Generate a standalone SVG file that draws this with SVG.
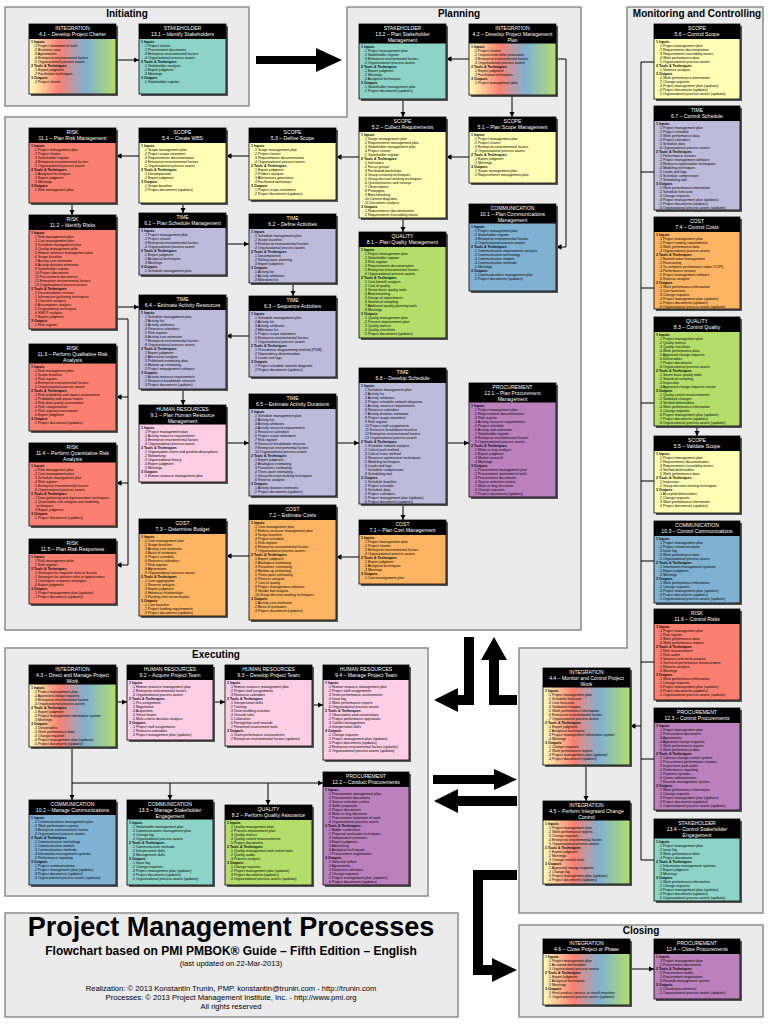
<svg xmlns="http://www.w3.org/2000/svg" width="768" height="1024" viewBox="0 0 768 1024">
<defs>
<linearGradient id="gi" x1="0" y1="0" x2="1" y2="0"><stop offset="0" stop-color="#ffffb3"/><stop offset="0.35" stop-color="#fb8072"/><stop offset="0.65" stop-color="#80b1d3"/><stop offset="1" stop-color="#b3de69"/></linearGradient>
<marker id="a" viewBox="0 0 10 10" refX="10" refY="5" markerWidth="5.5" markerHeight="5.5" markerUnits="userSpaceOnUse" orient="auto"><path d="M0,0L10,5L0,10z"/></marker>
<style>
.pn{fill:#ebebeb;stroke:#8c8c8c;stroke-width:1.5}
.pt{font:bold 10px "Liberation Sans",Arial,sans-serif;text-anchor:middle;fill:#000}
.s{fill:#555}
.bx{stroke:#000;stroke-width:.8}
.gi{fill:url(#gi)}.stk{fill:#8dd3c7}.scp{fill:#ffffb3}.tim{fill:#bebada}.cst{fill:#fdb462}.qua{fill:#b3de69}.hr{fill:#fccde5}.com{fill:#80b1d3}.rsk{fill:#fb8072}.prc{fill:#bc80bd}
.ht{font:5.1px "Liberation Sans",Arial,sans-serif;fill:#fff;text-anchor:middle}
.b{font:3.5px "Liberation Sans",Arial,sans-serif;fill:#000}
.h{font-weight:bold}
.c{fill:none;stroke:#000;stroke-width:1}
.ba{fill:#000}
.tt{font-family:"Liberation Sans",Arial,sans-serif;text-anchor:middle;fill:#000}
</style>
</defs>
<rect width="768" height="1024" fill="#fff"/>
<g id="panels">
<rect class="pn" x="5" y="7" width="244" height="99"/>
<path class="pn" d="M347,7H581V630H5V117H347Z"/>
<path class="pn" d="M627,7H763V913H519V648H627Z"/>
<rect class="pn" x="5" y="648" width="423" height="248"/>
<rect class="pn" x="5" y="913" width="453" height="104"/>
<rect class="pn" x="519" y="925" width="244" height="92"/>
<text class="pt" x="127" y="16.5">Initiating</text>
<text class="pt" x="459" y="16.5">Planning</text>
<text class="pt" x="697" y="16.5">Monitoring and Controlling</text>
<text class="pt" x="216" y="657.5">Executing</text>
<text class="pt" x="641" y="934">Closing</text>
</g>
<g id="big-arrows" class="ba">
<path d="M256,56H316V48L342,60L316,72V64H256Z"/>
<path d="M464,637H474V705H458V712L434,700L458,688V695H464Z"/>
<path d="M494,637L507,660H499V695H517V705H489V660H481Z"/>
<path d="M433,775H494V769L517,779.5L494,790V784H433Z"/>
<path d="M517,796V806H458V813L434,801L458,789V796Z"/>
<path d="M517,870V880H483V965H492V958L517,970L492,982V975H473V870Z"/>
</g>
<g id="connectors" class="c">
<path marker-end="url(#a)" d="M116,60H139"/>
<path marker-end="url(#a)" d="M469,59H446"/>
<path marker-end="url(#a)" d="M403,99V117"/>
<path marker-end="url(#a)" d="M512,95V117"/>
<path marker-end="url(#a)" d="M469,157H446"/>
<path marker-end="url(#a)" d="M359,157H336"/>
<path marker-end="url(#a)" d="M249,156H226"/>
<path marker-end="url(#a)" d="M139,156H116"/>
<path marker-end="url(#a)" d="M183,203V213"/>
<path marker-end="url(#a)" d="M72,203V215"/>
<path marker-end="url(#a)" d="M226,244H249"/>
<path marker-end="url(#a)" d="M293,283V296"/>
<path marker-end="url(#a)" d="M249,336H226"/>
<path marker-end="url(#a)" d="M183,389V405"/>
<path marker-end="url(#a)" d="M226,443H249"/>
<path marker-end="url(#a)" d="M336,443H359"/>
<path marker-end="url(#a)" d="M446,443H469"/>
<path marker-end="url(#a)" d="M403,504V520"/>
<path marker-end="url(#a)" d="M359,557H336"/>
<path marker-end="url(#a)" d="M249,556H226"/>
<path marker-end="url(#a)" d="M403,218V232"/>
<path marker-end="url(#a)" d="M556,59H566V247H556"/>
<path marker-end="url(#a)" d="M116,307H139"/>
<path marker-end="url(#a)" d="M116,319H128V565H116"/>
<path marker-end="url(#a)" d="M128,397H116"/>
<path marker-end="url(#a)" d="M128,483H116"/>
<path marker-end="url(#a)" d="M116,702H127"/>
<path marker-end="url(#a)" d="M213,702H225"/>
<path marker-end="url(#a)" d="M312,705H323"/>
<path marker-end="url(#a)" d="M72,747V783H323"/>
<path marker-end="url(#a)" d="M72,783V800"/>
<path marker-end="url(#a)" d="M170,783V800"/>
<path marker-end="url(#a)" d="M268,783V805"/>
<path d="M654,62H641V860H654M641,172H654M641,288H654M641,403H654M641,481H654M641,561H654M641,662H654M641,759H654"/>
<path marker-end="url(#a)" d="M641,726H630"/>
<path marker-end="url(#a)" d="M697,426V436"/>
<path marker-end="url(#a)" d="M586,765V801"/>
<path marker-end="url(#a)" d="M630,969H654"/>
</g>

<g id="p4-1" transform="translate(29,24)"><rect class="s" x="2" y="2" width="87" height="70"/><rect class="bx gi" width="87" height="70"/><rect width="87" height="15"/><text class="ht"><tspan x="43.5" y="6.2">INTEGRATION</tspan><tspan x="43.5" y="12">4.1 – Develop Project Charter</tspan></text><text class="b" y="15"><tspan class="h" x="2" dy="4">1 Inputs</tspan><tspan x="5" dy="4">.1 Project statement of work</tspan><tspan x="5" dy="4">.2 Business case</tspan><tspan x="5" dy="4">.3 Agreements</tspan><tspan x="5" dy="4">.4 Enterprise environmental factors</tspan><tspan x="5" dy="4">.5 Organizational process assets</tspan><tspan class="h" x="2" dy="4">2 Tools &amp; Techniques</tspan><tspan x="5" dy="4">.1 Expert judgment</tspan><tspan x="5" dy="4">.2 Facilitation techniques</tspan><tspan class="h" x="2" dy="4">3 Outputs</tspan><tspan x="5" dy="4">.1 Project charter</tspan></text></g>

<g id="p13-1" transform="translate(139,24)"><rect class="s" x="2" y="2" width="87" height="70"/><rect class="bx stk" width="87" height="70"/><rect width="87" height="15"/><text class="ht"><tspan x="43.5" y="6.2">STAKEHOLDER</tspan><tspan x="43.5" y="12">13.1 – Identify Stakeholders</tspan></text><text class="b" y="15"><tspan class="h" x="2" dy="4">1 Inputs</tspan><tspan x="5" dy="4">.1 Project charter</tspan><tspan x="5" dy="4">.2 Procurement documents</tspan><tspan x="5" dy="4">.3 Enterprise environmental factors</tspan><tspan x="5" dy="4">.4 Organizational process assets</tspan><tspan class="h" x="2" dy="4">2 Tools &amp; Techniques</tspan><tspan x="5" dy="4">.1 Stakeholder analysis</tspan><tspan x="5" dy="4">.2 Expert judgment</tspan><tspan x="5" dy="4">.3 Meetings</tspan><tspan class="h" x="2" dy="4">3 Outputs</tspan><tspan x="5" dy="4">.1 Stakeholder register</tspan></text></g>

<g id="p13-2" transform="translate(359,24)"><rect class="s" x="2" y="2" width="87" height="75"/><rect class="bx stk" width="87" height="75"/><rect width="87" height="19.5"/><text class="ht"><tspan x="43.5" y="6">STAKEHOLDER</tspan><tspan x="43.5" y="11.8">13.2 – Plan Stakeholder</tspan><tspan x="43.5" y="17.6">Management</tspan></text><text class="b" y="19.5"><tspan class="h" x="2" dy="4">1 Inputs</tspan><tspan x="5" dy="4">.1 Project management plan</tspan><tspan x="5" dy="4">.2 Stakeholder register</tspan><tspan x="5" dy="4">.3 Enterprise environmental factors</tspan><tspan x="5" dy="4">.4 Organizational process assets</tspan><tspan class="h" x="2" dy="4">2 Tools &amp; Techniques</tspan><tspan x="5" dy="4">.1 Expert judgment</tspan><tspan x="5" dy="4">.2 Meetings</tspan><tspan x="5" dy="4">.3 Analytical techniques</tspan><tspan class="h" x="2" dy="4">3 Outputs</tspan><tspan x="5" dy="4">.1 Stakeholder management plan</tspan><tspan x="5" dy="4">.2 Project documents (updates)</tspan></text></g>

<g id="p4-2" transform="translate(469,24)"><rect class="s" x="2" y="2" width="87" height="71"/><rect class="bx gi" width="87" height="71"/><rect width="87" height="19.5"/><text class="ht"><tspan x="43.5" y="6">INTEGRATION</tspan><tspan x="43.5" y="11.8">4.2 – Develop Project Management</tspan><tspan x="43.5" y="17.6">Plan</tspan></text><text class="b" y="19.5"><tspan class="h" x="2" dy="4">1 Inputs</tspan><tspan x="5" dy="4">.1 Project charter</tspan><tspan x="5" dy="4">.2 Outputs from other processes</tspan><tspan x="5" dy="4">.3 Enterprise environmental factors</tspan><tspan x="5" dy="4">.4 Organizational process assets</tspan><tspan class="h" x="2" dy="4">2 Tools &amp; Techniques</tspan><tspan x="5" dy="4">.1 Expert judgment</tspan><tspan x="5" dy="4">.2 Facilitation techniques</tspan><tspan class="h" x="2" dy="4">3 Outputs</tspan><tspan x="5" dy="4">.1 Project management plan</tspan></text></g>

<g id="p5-1" transform="translate(469,117)"><rect class="s" x="2" y="2" width="87" height="66"/><rect class="bx scp" width="87" height="66"/><rect width="87" height="15"/><text class="ht"><tspan x="43.5" y="6.2">SCOPE</tspan><tspan x="43.5" y="12">5.1 – Plan Scope Management</tspan></text><text class="b" y="15"><tspan class="h" x="2" dy="4">1 Inputs</tspan><tspan x="5" dy="4">.1 Project management plan</tspan><tspan x="5" dy="4">.2 Project charter</tspan><tspan x="5" dy="4">.3 Enterprise environmental factors</tspan><tspan x="5" dy="4">.4 Organizational process assets</tspan><tspan class="h" x="2" dy="4">2 Tools &amp; Techniques</tspan><tspan x="5" dy="4">.1 Expert judgment</tspan><tspan x="5" dy="4">.2 Meetings</tspan><tspan class="h" x="2" dy="4">3 Outputs</tspan><tspan x="5" dy="4">.1 Scope management plan</tspan><tspan x="5" dy="4">.2 Requirements management plan</tspan></text></g>

<g id="p5-2" transform="translate(359,117)"><rect class="s" x="2" y="2" width="87" height="101"/><rect class="bx scp" width="87" height="101"/><rect width="87" height="15"/><text class="ht"><tspan x="43.5" y="6.2">SCOPE</tspan><tspan x="43.5" y="12">5.2 – Collect Requirements</tspan></text><text class="b" y="15"><tspan class="h" x="2" dy="4">1 Inputs</tspan><tspan x="5" dy="4">.1 Scope management plan</tspan><tspan x="5" dy="4">.2 Requirements management plan</tspan><tspan x="5" dy="4">.3 Stakeholder management plan</tspan><tspan x="5" dy="4">.4 Project charter</tspan><tspan x="5" dy="4">.5 Stakeholder register</tspan><tspan class="h" x="2" dy="4">2 Tools &amp; Techniques</tspan><tspan x="5" dy="4">.1 Interviews</tspan><tspan x="5" dy="4">.2 Focus groups</tspan><tspan x="5" dy="4">.3 Facilitated workshops</tspan><tspan x="5" dy="4">.4 Group creativity techniques</tspan><tspan x="5" dy="4">.5 Group decision-making techniques</tspan><tspan x="5" dy="4">.6 Questionnaires and surveys</tspan><tspan x="5" dy="4">.7 Observations</tspan><tspan x="5" dy="4">.8 Prototypes</tspan><tspan x="5" dy="4">.9 Benchmarking</tspan><tspan x="5" dy="4">.10 Context diagrams</tspan><tspan x="5" dy="4">.11 Document analysis</tspan><tspan class="h" x="2" dy="4">3 Outputs</tspan><tspan x="5" dy="4">.1 Requirements documentation</tspan><tspan x="5" dy="4">.2 Requirements traceability matrix</tspan></text></g>

<g id="p5-3" transform="translate(249,128)"><rect class="s" x="2" y="2" width="87" height="72"/><rect class="bx scp" width="87" height="72"/><rect width="87" height="15"/><text class="ht"><tspan x="43.5" y="6.2">SCOPE</tspan><tspan x="43.5" y="12">5.3 – Define Scope</tspan></text><text class="b" y="15"><tspan class="h" x="2" dy="4">1 Inputs</tspan><tspan x="5" dy="4">.1 Scope management plan</tspan><tspan x="5" dy="4">.2 Project charter</tspan><tspan x="5" dy="4">.3 Requirements documentation</tspan><tspan x="5" dy="4">.4 Organizational process assets</tspan><tspan class="h" x="2" dy="4">2 Tools &amp; Techniques</tspan><tspan x="5" dy="4">.1 Expert judgment</tspan><tspan x="5" dy="4">.2 Product analysis</tspan><tspan x="5" dy="4">.3 Alternatives generation</tspan><tspan x="5" dy="4">.4 Facilitated workshops</tspan><tspan class="h" x="2" dy="4">3 Outputs</tspan><tspan x="5" dy="4">.1 Project scope statement</tspan><tspan x="5" dy="4">.2 Project documents (updates)</tspan></text></g>

<g id="p5-4" transform="translate(139,128)"><rect class="s" x="2" y="2" width="87" height="75"/><rect class="bx scp" width="87" height="75"/><rect width="87" height="15"/><text class="ht"><tspan x="43.5" y="6.2">SCOPE</tspan><tspan x="43.5" y="12">5.4 – Create WBS</tspan></text><text class="b" y="15"><tspan class="h" x="2" dy="4">1 Inputs</tspan><tspan x="5" dy="4">.1 Scope management plan</tspan><tspan x="5" dy="4">.2 Project scope statement</tspan><tspan x="5" dy="4">.3 Requirements documentation</tspan><tspan x="5" dy="4">.4 Enterprise environmental factors</tspan><tspan x="5" dy="4">.5 Organizational process assets</tspan><tspan class="h" x="2" dy="4">2 Tools &amp; Techniques</tspan><tspan x="5" dy="4">.1 Decomposition</tspan><tspan x="5" dy="4">.2 Expert judgment</tspan><tspan class="h" x="2" dy="4">3 Outputs</tspan><tspan x="5" dy="4">.1 Scope baseline</tspan><tspan x="5" dy="4">.2 Project documents (updates)</tspan></text></g>

<g id="p11-1" transform="translate(29,128)"><rect class="s" x="2" y="2" width="87" height="75"/><rect class="bx rsk" width="87" height="75"/><rect width="87" height="15"/><text class="ht"><tspan x="43.5" y="6.2">RISK</tspan><tspan x="43.5" y="12">11.1 – Plan Risk Management</tspan></text><text class="b" y="15"><tspan class="h" x="2" dy="4">1 Inputs</tspan><tspan x="5" dy="4">.1 Project management plan</tspan><tspan x="5" dy="4">.2 Project charter</tspan><tspan x="5" dy="4">.3 Stakeholder register</tspan><tspan x="5" dy="4">.4 Enterprise environmental factors</tspan><tspan x="5" dy="4">.5 Organizational process assets</tspan><tspan class="h" x="2" dy="4">2 Tools &amp; Techniques</tspan><tspan x="5" dy="4">.1 Analytical techniques</tspan><tspan x="5" dy="4">.2 Expert judgment</tspan><tspan x="5" dy="4">.3 Meetings</tspan><tspan class="h" x="2" dy="4">3 Outputs</tspan><tspan x="5" dy="4">.1 Risk management plan</tspan></text></g>

<g id="p11-2" transform="translate(29,215)"><rect class="s" x="2" y="2" width="87" height="114"/><rect class="bx rsk" width="87" height="114"/><rect width="87" height="15"/><text class="ht"><tspan x="43.5" y="6.2">RISK</tspan><tspan x="43.5" y="12">11.2 – Identify Risks</tspan></text><text class="b" y="15"><tspan class="h" x="2" dy="4">1 Inputs</tspan><tspan x="5" dy="4">.1 Risk management plan</tspan><tspan x="5" dy="4">.2 Cost management plan</tspan><tspan x="5" dy="4">.3 Schedule management plan</tspan><tspan x="5" dy="4">.4 Quality management plan</tspan><tspan x="5" dy="4">.5 Human resource management plan</tspan><tspan x="5" dy="4">.6 Scope baseline</tspan><tspan x="5" dy="4">.7 Activity cost estimates</tspan><tspan x="5" dy="4">.8 Activity duration estimates</tspan><tspan x="5" dy="4">.9 Stakeholder register</tspan><tspan x="5" dy="4">.10 Project documents</tspan><tspan x="5" dy="4">.11 Procurement documents</tspan><tspan x="5" dy="4">.12 Enterprise environmental factors</tspan><tspan x="5" dy="4">.13 Organizational process assets</tspan><tspan class="h" x="2" dy="4">2 Tools &amp; Techniques</tspan><tspan x="5" dy="4">.1 Documentation reviews</tspan><tspan x="5" dy="4">.2 Information gathering techniques</tspan><tspan x="5" dy="4">.3 Checklist analysis</tspan><tspan x="5" dy="4">.4 Assumptions analysis</tspan><tspan x="5" dy="4">.5 Diagramming techniques</tspan><tspan x="5" dy="4">.6 SWOT analysis</tspan><tspan x="5" dy="4">.7 Expert judgment</tspan><tspan class="h" x="2" dy="4">3 Outputs</tspan><tspan x="5" dy="4">.1 Risk register</tspan></text></g>

<g id="p11-3" transform="translate(29,344)"><rect class="s" x="2" y="2" width="87" height="87"/><rect class="bx rsk" width="87" height="87"/><rect width="87" height="19.5"/><text class="ht"><tspan x="43.5" y="6">RISK</tspan><tspan x="43.5" y="11.8">11.3 – Perform Qualitative Risk</tspan><tspan x="43.5" y="17.6">Analysis</tspan></text><text class="b" y="19.5"><tspan class="h" x="2" dy="4">1 Inputs</tspan><tspan x="5" dy="4">.1 Risk management plan</tspan><tspan x="5" dy="4">.2 Scope baseline</tspan><tspan x="5" dy="4">.3 Risk register</tspan><tspan x="5" dy="4">.4 Enterprise environmental factors</tspan><tspan x="5" dy="4">.5 Organizational process assets</tspan><tspan class="h" x="2" dy="4">2 Tools &amp; Techniques</tspan><tspan x="5" dy="4">.1 Risk probability and impact assessment</tspan><tspan x="5" dy="4">.2 Probability and impact matrix</tspan><tspan x="5" dy="4">.3 Risk data quality assessment</tspan><tspan x="5" dy="4">.4 Risk categorization</tspan><tspan x="5" dy="4">.5 Risk urgency assessment</tspan><tspan x="5" dy="4">.6 Expert judgment</tspan><tspan class="h" x="2" dy="4">3 Outputs</tspan><tspan x="5" dy="4">.1 Project documents (updates)</tspan></text></g>

<g id="p11-4" transform="translate(29,443)"><rect class="s" x="2" y="2" width="87" height="83"/><rect class="bx rsk" width="87" height="83"/><rect width="87" height="19.5"/><text class="ht"><tspan x="43.5" y="6">RISK</tspan><tspan x="43.5" y="11.8">11.4 – Perform Quantitative Risk</tspan><tspan x="43.5" y="17.6">Analysis</tspan></text><text class="b" y="19.5"><tspan class="h" x="2" dy="4">1 Inputs</tspan><tspan x="5" dy="4">.1 Risk management plan</tspan><tspan x="5" dy="4">.2 Cost management plan</tspan><tspan x="5" dy="4">.3 Schedule management plan</tspan><tspan x="5" dy="4">.4 Risk register</tspan><tspan x="5" dy="4">.5 Enterprise environmental factors</tspan><tspan x="5" dy="4">.6 Organizational process assets</tspan><tspan class="h" x="2" dy="4">2 Tools &amp; Techniques</tspan><tspan x="5" dy="4">.1 Data gathering and representation techniques</tspan><tspan x="5" dy="4">.2 Quantitative risk analysis and modeling</tspan><tspan x="7" dy="4">techniques</tspan><tspan x="5" dy="4">.3 Expert judgment</tspan><tspan class="h" x="2" dy="4">3 Outputs</tspan><tspan x="5" dy="4">.1 Project documents (updates)</tspan></text></g>

<g id="p11-5" transform="translate(29,539)"><rect class="s" x="2" y="2" width="87" height="65"/><rect class="bx rsk" width="87" height="65"/><rect width="87" height="15"/><text class="ht"><tspan x="43.5" y="6.2">RISK</tspan><tspan x="43.5" y="12">11.5 – Plan Risk Responses</tspan></text><text class="b" y="15"><tspan class="h" x="2" dy="4">1 Inputs</tspan><tspan x="5" dy="4">.1 Risk management plan</tspan><tspan x="5" dy="4">.2 Risk register</tspan><tspan class="h" x="2" dy="4">2 Tools &amp; Techniques</tspan><tspan x="5" dy="4">.1 Strategies for negative risks or threats</tspan><tspan x="5" dy="4">.2 Strategies for positive risks or opportunities</tspan><tspan x="5" dy="4">.3 Contingent response strategies</tspan><tspan x="5" dy="4">.4 Expert judgment</tspan><tspan class="h" x="2" dy="4">3 Outputs</tspan><tspan x="5" dy="4">.1 Project management plan (updates)</tspan><tspan x="5" dy="4">.2 Project documents (updates)</tspan></text></g>

<g id="p6-1" transform="translate(139,213)"><rect class="s" x="2" y="2" width="87" height="62"/><rect class="bx tim" width="87" height="62"/><rect width="87" height="15"/><text class="ht"><tspan x="43.5" y="6.2">TIME</tspan><tspan x="43.5" y="12">6.1 – Plan Schedule Management</tspan></text><text class="b" y="15"><tspan class="h" x="2" dy="4">1 Inputs</tspan><tspan x="5" dy="4">.1 Project management plan</tspan><tspan x="5" dy="4">.2 Project charter</tspan><tspan x="5" dy="4">.3 Enterprise environmental factors</tspan><tspan x="5" dy="4">.4 Organizational process assets</tspan><tspan class="h" x="2" dy="4">2 Tools &amp; Techniques</tspan><tspan x="5" dy="4">.1 Expert judgment</tspan><tspan x="5" dy="4">.2 Analytical techniques</tspan><tspan x="5" dy="4">.3 Meetings</tspan><tspan class="h" x="2" dy="4">3 Outputs</tspan><tspan x="5" dy="4">.1 Schedule management plan</tspan></text></g>

<g id="p6-2" transform="translate(249,214)"><rect class="s" x="2" y="2" width="87" height="69"/><rect class="bx tim" width="87" height="69"/><rect width="87" height="15"/><text class="ht"><tspan x="43.5" y="6.2">TIME</tspan><tspan x="43.5" y="12">6.2 – Define Activities</tspan></text><text class="b" y="15"><tspan class="h" x="2" dy="4">1 Inputs</tspan><tspan x="5" dy="4">.1 Schedule management plan</tspan><tspan x="5" dy="4">.2 Scope baseline</tspan><tspan x="5" dy="4">.3 Enterprise environmental factors</tspan><tspan x="5" dy="4">.4 Organizational process assets</tspan><tspan class="h" x="2" dy="4">2 Tools &amp; Techniques</tspan><tspan x="5" dy="4">.1 Decomposition</tspan><tspan x="5" dy="4">.2 Rolling wave planning</tspan><tspan x="5" dy="4">.3 Expert judgment</tspan><tspan class="h" x="2" dy="4">3 Outputs</tspan><tspan x="5" dy="4">.1 Activity list</tspan><tspan x="5" dy="4">.2 Activity attributes</tspan><tspan x="5" dy="4">.3 Milestone list</tspan></text></g>

<g id="p6-3" transform="translate(249,296)"><rect class="s" x="2" y="2" width="87" height="81"/><rect class="bx tim" width="87" height="81"/><rect width="87" height="15"/><text class="ht"><tspan x="43.5" y="6.2">TIME</tspan><tspan x="43.5" y="12">6.3 – Sequence Activities</tspan></text><text class="b" y="15"><tspan class="h" x="2" dy="4">1 Inputs</tspan><tspan x="5" dy="4">.1 Schedule management plan</tspan><tspan x="5" dy="4">.2 Activity list</tspan><tspan x="5" dy="4">.3 Activity attributes</tspan><tspan x="5" dy="4">.4 Milestone list</tspan><tspan x="5" dy="4">.5 Project scope statement</tspan><tspan x="5" dy="4">.6 Enterprise environmental factors</tspan><tspan x="5" dy="4">.7 Organizational process assets</tspan><tspan class="h" x="2" dy="4">2 Tools &amp; Techniques</tspan><tspan x="5" dy="4">.1 Precedence diagramming method (PDM)</tspan><tspan x="5" dy="4">.2 Dependency determination</tspan><tspan x="5" dy="4">.3 Leads and lags</tspan><tspan class="h" x="2" dy="4">3 Outputs</tspan><tspan x="5" dy="4">.1 Project schedule network diagrams</tspan><tspan x="5" dy="4">.2 Project documents (updates)</tspan></text></g>

<g id="p6-4" transform="translate(139,295)"><rect class="s" x="2" y="2" width="87" height="94"/><rect class="bx tim" width="87" height="94"/><rect width="87" height="15"/><text class="ht"><tspan x="43.5" y="6.2">TIME</tspan><tspan x="43.5" y="12">6.4 – Estimate Activity Resources</tspan></text><text class="b" y="15"><tspan class="h" x="2" dy="4">1 Inputs</tspan><tspan x="5" dy="4">.1 Schedule management plan</tspan><tspan x="5" dy="4">.2 Activity list</tspan><tspan x="5" dy="4">.3 Activity attributes</tspan><tspan x="5" dy="4">.4 Resource calendars</tspan><tspan x="5" dy="4">.5 Risk register</tspan><tspan x="5" dy="4">.6 Activity cost estimates</tspan><tspan x="5" dy="4">.7 Enterprise environmental factors</tspan><tspan x="5" dy="4">.8 Organizational process assets</tspan><tspan class="h" x="2" dy="4">2 Tools &amp; Techniques</tspan><tspan x="5" dy="4">.1 Expert judgment</tspan><tspan x="5" dy="4">.2 Alternative analysis</tspan><tspan x="5" dy="4">.3 Published estimating data</tspan><tspan x="5" dy="4">.4 Bottom-up estimating</tspan><tspan x="5" dy="4">.5 Project management software</tspan><tspan class="h" x="2" dy="4">3 Outputs</tspan><tspan x="5" dy="4">.1 Activity resource requirements</tspan><tspan x="5" dy="4">.2 Resource breakdown structure</tspan><tspan x="5" dy="4">.3 Project documents (updates)</tspan></text></g>

<g id="p9-1" transform="translate(139,405)"><rect class="s" x="2" y="2" width="87" height="77"/><rect class="bx hr" width="87" height="77"/><rect width="87" height="19.5"/><text class="ht"><tspan x="43.5" y="6">HUMAN RESOURCES</tspan><tspan x="43.5" y="11.8">9.1 – Plan Human Resource</tspan><tspan x="43.5" y="17.6">Management</tspan></text><text class="b" y="19.5"><tspan class="h" x="2" dy="4">1 Inputs</tspan><tspan x="5" dy="4">.1 Project management plan</tspan><tspan x="5" dy="4">.2 Activity resource requirements</tspan><tspan x="5" dy="4">.3 Enterprise environmental factors</tspan><tspan x="5" dy="4">.4 Organizational process assets</tspan><tspan class="h" x="2" dy="4">2 Tools &amp; Techniques</tspan><tspan x="5" dy="4">.1 Organization charts and position descriptions</tspan><tspan x="5" dy="4">.2 Networking</tspan><tspan x="5" dy="4">.3 Organizational theory</tspan><tspan x="5" dy="4">.4 Expert judgment</tspan><tspan x="5" dy="4">.5 Meetings</tspan><tspan class="h" x="2" dy="4">3 Outputs</tspan><tspan x="5" dy="4">.1 Human resource management plan</tspan></text></g>

<g id="p6-5" transform="translate(249,394)"><rect class="s" x="2" y="2" width="87" height="102"/><rect class="bx tim" width="87" height="102"/><rect width="87" height="15"/><text class="ht"><tspan x="43.5" y="6.2">TIME</tspan><tspan x="43.5" y="12">6.5 – Estimate Activity Durations</tspan></text><text class="b" y="15"><tspan class="h" x="2" dy="4">1 Inputs</tspan><tspan x="5" dy="4">.1 Schedule management plan</tspan><tspan x="5" dy="4">.2 Activity list</tspan><tspan x="5" dy="4">.3 Activity attributes</tspan><tspan x="5" dy="4">.4 Activity resource requirements</tspan><tspan x="5" dy="4">.5 Resource calendars</tspan><tspan x="5" dy="4">.6 Project scope statement</tspan><tspan x="5" dy="4">.7 Risk register</tspan><tspan x="5" dy="4">.8 Resource breakdown structure</tspan><tspan x="5" dy="4">.9 Enterprise environmental factors</tspan><tspan x="5" dy="4">.10 Organizational process assets</tspan><tspan class="h" x="2" dy="4">2 Tools &amp; Techniques</tspan><tspan x="5" dy="4">.1 Expert judgment</tspan><tspan x="5" dy="4">.2 Analogous estimating</tspan><tspan x="5" dy="4">.3 Parametric estimating</tspan><tspan x="5" dy="4">.4 Three-point estimating</tspan><tspan x="5" dy="4">.5 Group decision-making techniques</tspan><tspan x="5" dy="4">.6 Reserve analysis</tspan><tspan class="h" x="2" dy="4">3 Outputs</tspan><tspan x="5" dy="4">.1 Activity duration estimates</tspan><tspan x="5" dy="4">.2 Project documents (updates)</tspan></text></g>

<g id="p6-6" transform="translate(359,368)"><rect class="s" x="2" y="2" width="87" height="136"/><rect class="bx tim" width="87" height="136"/><rect width="87" height="15"/><text class="ht"><tspan x="43.5" y="6.2">TIME</tspan><tspan x="43.5" y="12">6.6 – Develop Schedule</tspan></text><text class="b" y="15"><tspan class="h" x="2" dy="4">1 Inputs</tspan><tspan x="5" dy="4">.1 Schedule management plan</tspan><tspan x="5" dy="4">.2 Activity list</tspan><tspan x="5" dy="4">.3 Activity attributes</tspan><tspan x="5" dy="4">.4 Project schedule network diagrams</tspan><tspan x="5" dy="4">.5 Activity resource requirements</tspan><tspan x="5" dy="4">.6 Resource calendars</tspan><tspan x="5" dy="4">.7 Activity duration estimates</tspan><tspan x="5" dy="4">.8 Project scope statement</tspan><tspan x="5" dy="4">.9 Risk register</tspan><tspan x="5" dy="4">.10 Project staff assignments</tspan><tspan x="5" dy="4">.11 Resource breakdown structure</tspan><tspan x="5" dy="4">.12 Enterprise environmental factors</tspan><tspan x="5" dy="4">.13 Organizational process assets</tspan><tspan class="h" x="2" dy="4">2 Tools &amp; Techniques</tspan><tspan x="5" dy="4">.1 Schedule network analysis</tspan><tspan x="5" dy="4">.2 Critical path method</tspan><tspan x="5" dy="4">.3 Critical chain method</tspan><tspan x="5" dy="4">.4 Resource optimization techniques</tspan><tspan x="5" dy="4">.5 Modeling techniques</tspan><tspan x="5" dy="4">.6 Leads and lags</tspan><tspan x="5" dy="4">.7 Schedule compression</tspan><tspan x="5" dy="4">.8 Scheduling tool</tspan><tspan class="h" x="2" dy="4">3 Outputs</tspan><tspan x="5" dy="4">.1 Schedule baseline</tspan><tspan x="5" dy="4">.2 Project schedule</tspan><tspan x="5" dy="4">.3 Schedule data</tspan><tspan x="5" dy="4">.4 Project calendars</tspan><tspan x="5" dy="4">.5 Project management plan (updates)</tspan><tspan x="5" dy="4">.6 Project documents (updates)</tspan></text></g>

<g id="p12-1" transform="translate(469,383)"><rect class="s" x="2" y="2" width="87" height="114"/><rect class="bx prc" width="87" height="114"/><rect width="87" height="19.5"/><text class="ht"><tspan x="43.5" y="6">PROCUREMENT</tspan><tspan x="43.5" y="11.8">12.1 – Plan Procurement</tspan><tspan x="43.5" y="17.6">Management</tspan></text><text class="b" y="19.5"><tspan class="h" x="2" dy="4">1 Inputs</tspan><tspan x="5" dy="4">.1 Project management plan</tspan><tspan x="5" dy="4">.2 Requirements documentation</tspan><tspan x="5" dy="4">.3 Risk register</tspan><tspan x="5" dy="4">.4 Activity resource requirements</tspan><tspan x="5" dy="4">.5 Project schedule</tspan><tspan x="5" dy="4">.6 Activity cost estimates</tspan><tspan x="5" dy="4">.7 Stakeholder register</tspan><tspan x="5" dy="4">.8 Enterprise environmental factors</tspan><tspan x="5" dy="4">.9 Organizational process assets</tspan><tspan class="h" x="2" dy="4">2 Tools &amp; Techniques</tspan><tspan x="5" dy="4">.1 Make-or-buy analysis</tspan><tspan x="5" dy="4">.2 Expert judgment</tspan><tspan x="5" dy="4">.3 Market research</tspan><tspan x="5" dy="4">.4 Meetings</tspan><tspan class="h" x="2" dy="4">3 Outputs</tspan><tspan x="5" dy="4">.1 Procurement management plan</tspan><tspan x="5" dy="4">.2 Procurement statement of work</tspan><tspan x="5" dy="4">.3 Procurement documents</tspan><tspan x="5" dy="4">.4 Source selection criteria</tspan><tspan x="5" dy="4">.5 Make-or-buy decisions</tspan><tspan x="5" dy="4">.6 Change requests</tspan><tspan x="5" dy="4">.7 Project documents (updates)</tspan></text></g>

<g id="p7-1" transform="translate(359,520)"><rect class="s" x="2" y="2" width="87" height="64"/><rect class="bx cst" width="87" height="64"/><rect width="87" height="15"/><text class="ht"><tspan x="43.5" y="6.2">COST</tspan><tspan x="43.5" y="12">7.1 – Plan Cost Management</tspan></text><text class="b" y="15"><tspan class="h" x="2" dy="4">1 Inputs</tspan><tspan x="5" dy="4">.1 Project management plan</tspan><tspan x="5" dy="4">.2 Project charter</tspan><tspan x="5" dy="4">.3 Enterprise environmental factors</tspan><tspan x="5" dy="4">.4 Organizational process assets</tspan><tspan class="h" x="2" dy="4">2 Tools &amp; Techniques</tspan><tspan x="5" dy="4">.1 Expert judgment</tspan><tspan x="5" dy="4">.2 Analytical techniques</tspan><tspan x="5" dy="4">.3 Meetings</tspan><tspan class="h" x="2" dy="4">3 Outputs</tspan><tspan x="5" dy="4">.1 Cost management plan</tspan></text></g>

<g id="p7-2" transform="translate(249,505)"><rect class="s" x="2" y="2" width="87" height="115"/><rect class="bx cst" width="87" height="115"/><rect width="87" height="15"/><text class="ht"><tspan x="43.5" y="6.2">COST</tspan><tspan x="43.5" y="12">7.2 – Estimate Costs</tspan></text><text class="b" y="15"><tspan class="h" x="2" dy="4">1 Inputs</tspan><tspan x="5" dy="4">.1 Cost management plan</tspan><tspan x="5" dy="4">.2 Human resource management plan</tspan><tspan x="5" dy="4">.3 Scope baseline</tspan><tspan x="5" dy="4">.4 Project schedule</tspan><tspan x="5" dy="4">.5 Risk register</tspan><tspan x="5" dy="4">.6 Enterprise environmental factors</tspan><tspan x="5" dy="4">.7 Organizational process assets</tspan><tspan class="h" x="2" dy="4">2 Tools &amp; Techniques</tspan><tspan x="5" dy="4">.1 Expert judgment</tspan><tspan x="5" dy="4">.2 Analogous estimating</tspan><tspan x="5" dy="4">.3 Parametric estimating</tspan><tspan x="5" dy="4">.4 Bottom-up estimating</tspan><tspan x="5" dy="4">.5 Three-point estimating</tspan><tspan x="5" dy="4">.6 Reserve analysis</tspan><tspan x="5" dy="4">.7 Cost of quality</tspan><tspan x="5" dy="4">.8 Project management software</tspan><tspan x="5" dy="4">.9 Vendor bid analysis</tspan><tspan x="5" dy="4">.10 Group decision-making techniques</tspan><tspan class="h" x="2" dy="4">3 Outputs</tspan><tspan x="5" dy="4">.1 Activity cost estimates</tspan><tspan x="5" dy="4">.2 Basis of estimates</tspan><tspan x="5" dy="4">.3 Project documents (updates)</tspan></text></g>

<g id="p7-3" transform="translate(139,519)"><rect class="s" x="2" y="2" width="87" height="97"/><rect class="bx cst" width="87" height="97"/><rect width="87" height="15"/><text class="ht"><tspan x="43.5" y="6.2">COST</tspan><tspan x="43.5" y="12">7.3 – Determine Budget</tspan></text><text class="b" y="15"><tspan class="h" x="2" dy="4">1 Inputs</tspan><tspan x="5" dy="4">.1 Cost management plan</tspan><tspan x="5" dy="4">.2 Scope baseline</tspan><tspan x="5" dy="4">.3 Activity cost estimates</tspan><tspan x="5" dy="4">.4 Basis of estimates</tspan><tspan x="5" dy="4">.5 Project schedule</tspan><tspan x="5" dy="4">.6 Resource calendars</tspan><tspan x="5" dy="4">.7 Risk register</tspan><tspan x="5" dy="4">.8 Agreements</tspan><tspan x="5" dy="4">.9 Organizational process assets</tspan><tspan class="h" x="2" dy="4">2 Tools &amp; Techniques</tspan><tspan x="5" dy="4">.1 Cost aggregation</tspan><tspan x="5" dy="4">.2 Reserve analysis</tspan><tspan x="5" dy="4">.3 Expert judgment</tspan><tspan x="5" dy="4">.4 Historical relationships</tspan><tspan x="5" dy="4">.5 Funding limit reconciliation</tspan><tspan class="h" x="2" dy="4">3 Outputs</tspan><tspan x="5" dy="4">.1 Cost baseline</tspan><tspan x="5" dy="4">.2 Project funding requirements</tspan><tspan x="5" dy="4">.3 Project documents (updates)</tspan></text></g>

<g id="p8-1" transform="translate(359,232)"><rect class="s" x="2" y="2" width="87" height="106"/><rect class="bx qua" width="87" height="106"/><rect width="87" height="15"/><text class="ht"><tspan x="43.5" y="6.2">QUALITY</tspan><tspan x="43.5" y="12">8.1 – Plan Quality Management</tspan></text><text class="b" y="15"><tspan class="h" x="2" dy="4">1 Inputs</tspan><tspan x="5" dy="4">.1 Project management plan</tspan><tspan x="5" dy="4">.2 Stakeholder register</tspan><tspan x="5" dy="4">.3 Risk register</tspan><tspan x="5" dy="4">.4 Requirements documentation</tspan><tspan x="5" dy="4">.5 Enterprise environmental factors</tspan><tspan x="5" dy="4">.6 Organizational process assets</tspan><tspan class="h" x="2" dy="4">2 Tools &amp; Techniques</tspan><tspan x="5" dy="4">.1 Cost-benefit analysis</tspan><tspan x="5" dy="4">.2 Cost of quality</tspan><tspan x="5" dy="4">.3 Seven basic quality tools</tspan><tspan x="5" dy="4">.4 Benchmarking</tspan><tspan x="5" dy="4">.5 Design of experiments</tspan><tspan x="5" dy="4">.6 Statistical sampling</tspan><tspan x="5" dy="4">.7 Additional quality planning tools</tspan><tspan x="5" dy="4">.8 Meetings</tspan><tspan class="h" x="2" dy="4">3 Outputs</tspan><tspan x="5" dy="4">.1 Quality management plan</tspan><tspan x="5" dy="4">.2 Process improvement plan</tspan><tspan x="5" dy="4">.3 Quality metrics</tspan><tspan x="5" dy="4">.4 Quality checklists</tspan><tspan x="5" dy="4">.5 Project documents (updates)</tspan></text></g>

<g id="p10-1" transform="translate(469,204)"><rect class="s" x="2" y="2" width="87" height="87"/><rect class="bx com" width="87" height="87"/><rect width="87" height="19.5"/><text class="ht"><tspan x="43.5" y="6">COMMUNICATION</tspan><tspan x="43.5" y="11.8">10.1 – Plan Communications</tspan><tspan x="43.5" y="17.6">Management</tspan></text><text class="b" y="19.5"><tspan class="h" x="2" dy="4">1 Inputs</tspan><tspan x="5" dy="4">.1 Project management plan</tspan><tspan x="5" dy="4">.2 Stakeholder register</tspan><tspan x="5" dy="4">.3 Enterprise environmental factors</tspan><tspan x="5" dy="4">.4 Organizational process assets</tspan><tspan class="h" x="2" dy="4">2 Tools &amp; Techniques</tspan><tspan x="5" dy="4">.1 Communication requirements analysis</tspan><tspan x="5" dy="4">.2 Communication technology</tspan><tspan x="5" dy="4">.3 Communication models</tspan><tspan x="5" dy="4">.4 Communication methods</tspan><tspan x="5" dy="4">.5 Meetings</tspan><tspan class="h" x="2" dy="4">3 Outputs</tspan><tspan x="5" dy="4">.1 Communications management plan</tspan><tspan x="5" dy="4">.2 Project documents (updates)</tspan></text></g>

<g id="p5-6" transform="translate(654,24)"><rect class="s" x="2" y="2" width="86" height="75"/><rect class="bx scp" width="86" height="75"/><rect width="86" height="15"/><text class="ht"><tspan x="43" y="6.2">SCOPE</tspan><tspan x="43" y="12">5.6 – Control Scope</tspan></text><text class="b" y="15"><tspan class="h" x="2" dy="4">1 Inputs</tspan><tspan x="5" dy="4">.1 Project management plan</tspan><tspan x="5" dy="4">.2 Requirements documentation</tspan><tspan x="5" dy="4">.3 Requirements traceability matrix</tspan><tspan x="5" dy="4">.4 Work performance data</tspan><tspan x="5" dy="4">.5 Organizational process assets</tspan><tspan class="h" x="2" dy="4">2 Tools &amp; Techniques</tspan><tspan x="5" dy="4">.1 Variance analysis</tspan><tspan class="h" x="2" dy="4">3 Outputs</tspan><tspan x="5" dy="4">.1 Work performance information</tspan><tspan x="5" dy="4">.2 Change requests</tspan><tspan x="5" dy="4">.3 Project management plan (updates)</tspan><tspan x="5" dy="4">.4 Project documents (updates)</tspan><tspan x="5" dy="4">.5 Organizational process assets (updates)</tspan></text></g>

<g id="p6-7" transform="translate(654,106)"><rect class="s" x="2" y="2" width="86" height="104"/><rect class="bx tim" width="86" height="104"/><rect width="86" height="15"/><text class="ht"><tspan x="43" y="6.2">TIME</tspan><tspan x="43" y="12">6.7 – Control Schedule</tspan></text><text class="b" y="15"><tspan class="h" x="2" dy="4">1 Inputs</tspan><tspan x="5" dy="4">.1 Project management plan</tspan><tspan x="5" dy="4">.2 Project schedule</tspan><tspan x="5" dy="4">.3 Work performance data</tspan><tspan x="5" dy="4">.4 Project calendars</tspan><tspan x="5" dy="4">.5 Schedule data</tspan><tspan x="5" dy="4">.6 Organizational process assets</tspan><tspan class="h" x="2" dy="4">2 Tools &amp; Techniques</tspan><tspan x="5" dy="4">.1 Performance reviews</tspan><tspan x="5" dy="4">.2 Project management software</tspan><tspan x="5" dy="4">.3 Resource optimization techniques</tspan><tspan x="5" dy="4">.4 Modeling techniques</tspan><tspan x="5" dy="4">.5 Leads and lags</tspan><tspan x="5" dy="4">.6 Schedule compression</tspan><tspan x="5" dy="4">.7 Scheduling tool</tspan><tspan class="h" x="2" dy="4">3 Outputs</tspan><tspan x="5" dy="4">.1 Work performance information</tspan><tspan x="5" dy="4">.2 Schedule forecasts</tspan><tspan x="5" dy="4">.3 Change requests</tspan><tspan x="5" dy="4">.4 Project management plan (updates)</tspan><tspan x="5" dy="4">.5 Project documents (updates)</tspan><tspan x="5" dy="4">.6 Organizational process assets (updates)</tspan></text></g>

<g id="p7-4" transform="translate(654,217)"><rect class="s" x="2" y="2" width="86" height="92"/><rect class="bx cst" width="86" height="92"/><rect width="86" height="15"/><text class="ht"><tspan x="43" y="6.2">COST</tspan><tspan x="43" y="12">7.4 – Control Costs</tspan></text><text class="b" y="15"><tspan class="h" x="2" dy="4">1 Inputs</tspan><tspan x="5" dy="4">.1 Project management plan</tspan><tspan x="5" dy="4">.2 Project funding requirements</tspan><tspan x="5" dy="4">.3 Work performance data</tspan><tspan x="5" dy="4">.4 Organizational process assets</tspan><tspan class="h" x="2" dy="4">2 Tools &amp; Techniques</tspan><tspan x="5" dy="4">.1 Earned value management</tspan><tspan x="5" dy="4">.2 Forecasting</tspan><tspan x="5" dy="4">.3 To-complete performance index (TCPI)</tspan><tspan x="5" dy="4">.4 Performance reviews</tspan><tspan x="5" dy="4">.5 Project management software</tspan><tspan x="5" dy="4">.6 Reserve analysis</tspan><tspan class="h" x="2" dy="4">3 Outputs</tspan><tspan x="5" dy="4">.1 Work performance information</tspan><tspan x="5" dy="4">.2 Cost forecasts</tspan><tspan x="5" dy="4">.3 Change requests</tspan><tspan x="5" dy="4">.4 Project management plan (updates)</tspan><tspan x="5" dy="4">.5 Project documents (updates)</tspan><tspan x="5" dy="4">.6 Organizational process assets (updates)</tspan></text></g>

<g id="p8-3" transform="translate(654,317)"><rect class="s" x="2" y="2" width="86" height="109"/><rect class="bx qua" width="86" height="109"/><rect width="86" height="15"/><text class="ht"><tspan x="43" y="6.2">QUALITY</tspan><tspan x="43" y="12">8.3 – Control Quality</tspan></text><text class="b" y="15"><tspan class="h" x="2" dy="4">1 Inputs</tspan><tspan x="5" dy="4">.1 Project management plan</tspan><tspan x="5" dy="4">.2 Quality metrics</tspan><tspan x="5" dy="4">.3 Quality checklists</tspan><tspan x="5" dy="4">.4 Work performance data</tspan><tspan x="5" dy="4">.5 Approved change requests</tspan><tspan x="5" dy="4">.6 Deliverables</tspan><tspan x="5" dy="4">.7 Project documents</tspan><tspan x="5" dy="4">.8 Organizational process assets</tspan><tspan class="h" x="2" dy="4">2 Tools &amp; Techniques</tspan><tspan x="5" dy="4">.1 Seven basic quality tools</tspan><tspan x="5" dy="4">.2 Statistical sampling</tspan><tspan x="5" dy="4">.3 Inspection</tspan><tspan x="5" dy="4">.4 Approved change requests review</tspan><tspan class="h" x="2" dy="4">3 Outputs</tspan><tspan x="5" dy="4">.1 Quality control measurements</tspan><tspan x="5" dy="4">.2 Validated changes</tspan><tspan x="5" dy="4">.3 Verified deliverables</tspan><tspan x="5" dy="4">.4 Work performance information</tspan><tspan x="5" dy="4">.5 Change requests</tspan><tspan x="5" dy="4">.6 Project management plan (updates)</tspan><tspan x="5" dy="4">.7 Project documents (updates)</tspan><tspan x="5" dy="4">.8 Organizational process assets (updates)</tspan></text></g>

<g id="p5-5" transform="translate(654,436)"><rect class="s" x="2" y="2" width="86" height="77"/><rect class="bx scp" width="86" height="77"/><rect width="86" height="15"/><text class="ht"><tspan x="43" y="6.2">SCOPE</tspan><tspan x="43" y="12">5.5 – Validate Scope</tspan></text><text class="b" y="15"><tspan class="h" x="2" dy="4">1 Inputs</tspan><tspan x="5" dy="4">.1 Project management plan</tspan><tspan x="5" dy="4">.2 Requirements documentation</tspan><tspan x="5" dy="4">.3 Requirements traceability matrix</tspan><tspan x="5" dy="4">.4 Verified deliverables</tspan><tspan x="5" dy="4">.5 Work performance data</tspan><tspan class="h" x="2" dy="4">2 Tools &amp; Techniques</tspan><tspan x="5" dy="4">.1 Inspection</tspan><tspan x="5" dy="4">.2 Group decision-making techniques</tspan><tspan class="h" x="2" dy="4">3 Outputs</tspan><tspan x="5" dy="4">.1 Accepted deliverables</tspan><tspan x="5" dy="4">.2 Change requests</tspan><tspan x="5" dy="4">.3 Work performance information</tspan><tspan x="5" dy="4">.4 Project documents (updates)</tspan></text></g>

<g id="p10-3" transform="translate(654,521)"><rect class="s" x="2" y="2" width="86" height="82"/><rect class="bx com" width="86" height="82"/><rect width="86" height="15"/><text class="ht"><tspan x="43" y="6.2">COMMUNICATION</tspan><tspan x="43" y="12">10.3 – Control Communications</tspan></text><text class="b" y="15"><tspan class="h" x="2" dy="4">1 Inputs</tspan><tspan x="5" dy="4">.1 Project management plan</tspan><tspan x="5" dy="4">.2 Project communications</tspan><tspan x="5" dy="4">.3 Issue log</tspan><tspan x="5" dy="4">.4 Work performance data</tspan><tspan x="5" dy="4">.5 Organizational process assets</tspan><tspan class="h" x="2" dy="4">2 Tools &amp; Techniques</tspan><tspan x="5" dy="4">.1 Information management systems</tspan><tspan x="5" dy="4">.2 Expert judgment</tspan><tspan x="5" dy="4">.3 Meetings</tspan><tspan class="h" x="2" dy="4">3 Outputs</tspan><tspan x="5" dy="4">.1 Work performance information</tspan><tspan x="5" dy="4">.2 Change requests</tspan><tspan x="5" dy="4">.3 Project management plan (updates)</tspan><tspan x="5" dy="4">.4 Project documents (updates)</tspan><tspan x="5" dy="4">.5 Organizational process assets (updates)</tspan></text></g>

<g id="p11-6" transform="translate(654,609)"><rect class="s" x="2" y="2" width="86" height="91"/><rect class="bx rsk" width="86" height="91"/><rect width="86" height="15"/><text class="ht"><tspan x="43" y="6.2">RISK</tspan><tspan x="43" y="12">11.6 – Control Risks</tspan></text><text class="b" y="15"><tspan class="h" x="2" dy="4">1 Inputs</tspan><tspan x="5" dy="4">.1 Project management plan</tspan><tspan x="5" dy="4">.2 Risk register</tspan><tspan x="5" dy="4">.3 Work performance data</tspan><tspan x="5" dy="4">.4 Work performance reports</tspan><tspan class="h" x="2" dy="4">2 Tools &amp; Techniques</tspan><tspan x="5" dy="4">.1 Risk reassessment</tspan><tspan x="5" dy="4">.2 Risk audits</tspan><tspan x="5" dy="4">.3 Variance and trend analysis</tspan><tspan x="5" dy="4">.4 Technical performance measurement</tspan><tspan x="5" dy="4">.5 Reserve analysis</tspan><tspan x="5" dy="4">.6 Meetings</tspan><tspan class="h" x="2" dy="4">3 Outputs</tspan><tspan x="5" dy="4">.1 Work performance information</tspan><tspan x="5" dy="4">.2 Change requests</tspan><tspan x="5" dy="4">.3 Project management plan (updates)</tspan><tspan x="5" dy="4">.4 Project documents (updates)</tspan><tspan x="5" dy="4">.5 Organizational process assets (updates)</tspan></text></g>

<g id="p12-3" transform="translate(654,708)"><rect class="s" x="2" y="2" width="86" height="102"/><rect class="bx prc" width="86" height="102"/><rect width="86" height="15"/><text class="ht"><tspan x="43" y="6.2">PROCUREMENT</tspan><tspan x="43" y="12">12.3 – Control Procurements</tspan></text><text class="b" y="15"><tspan class="h" x="2" dy="4">1 Inputs</tspan><tspan x="5" dy="4">.1 Project management plan</tspan><tspan x="5" dy="4">.2 Procurement documents</tspan><tspan x="5" dy="4">.3 Agreements</tspan><tspan x="5" dy="4">.4 Approved change requests</tspan><tspan x="5" dy="4">.5 Work performance reports</tspan><tspan x="5" dy="4">.6 Work performance data</tspan><tspan class="h" x="2" dy="4">2 Tools &amp; Techniques</tspan><tspan x="5" dy="4">.1 Contract change control system</tspan><tspan x="5" dy="4">.2 Procurement performance reviews</tspan><tspan x="5" dy="4">.3 Inspections and audits</tspan><tspan x="5" dy="4">.4 Performance reporting</tspan><tspan x="5" dy="4">.5 Payment systems</tspan><tspan x="5" dy="4">.6 Claims administration</tspan><tspan x="5" dy="4">.7 Records management system</tspan><tspan class="h" x="2" dy="4">3 Outputs</tspan><tspan x="5" dy="4">.1 Work performance information</tspan><tspan x="5" dy="4">.2 Change requests</tspan><tspan x="5" dy="4">.3 Project management plan (updates)</tspan><tspan x="5" dy="4">.4 Project documents (updates)</tspan><tspan x="5" dy="4">.5 Organizational process assets (updates)</tspan></text></g>

<g id="p13-4" transform="translate(654,819)"><rect class="s" x="2" y="2" width="86" height="82"/><rect class="bx stk" width="86" height="82"/><rect width="86" height="19.5"/><text class="ht"><tspan x="43" y="6">STAKEHOLDER</tspan><tspan x="43" y="11.8">13.4 – Control Stakeholder</tspan><tspan x="43" y="17.6">Engagement</tspan></text><text class="b" y="19.5"><tspan class="h" x="2" dy="4">1 Inputs</tspan><tspan x="5" dy="4">.1 Project management plan</tspan><tspan x="5" dy="4">.2 Issue log</tspan><tspan x="5" dy="4">.3 Work performance data</tspan><tspan x="5" dy="4">.4 Project documents</tspan><tspan class="h" x="2" dy="4">2 Tools &amp; Techniques</tspan><tspan x="5" dy="4">.1 Information management systems</tspan><tspan x="5" dy="4">.2 Expert judgment</tspan><tspan x="5" dy="4">.3 Meetings</tspan><tspan class="h" x="2" dy="4">3 Outputs</tspan><tspan x="5" dy="4">.1 Work performance information</tspan><tspan x="5" dy="4">.2 Change requests</tspan><tspan x="5" dy="4">.3 Project management plan (updates)</tspan><tspan x="5" dy="4">.4 Project documents (updates)</tspan><tspan x="5" dy="4">.5 Organizational process assets (updates)</tspan></text></g>

<g id="p4-4" transform="translate(543,668)"><rect class="s" x="2" y="2" width="87" height="97"/><rect class="bx gi" width="87" height="97"/><rect width="87" height="19.5"/><text class="ht"><tspan x="43.5" y="6">INTEGRATION</tspan><tspan x="43.5" y="11.8">4.4 – Monitor and Control Project</tspan><tspan x="43.5" y="17.6">Work</tspan></text><text class="b" y="19.5"><tspan class="h" x="2" dy="4">1 Inputs</tspan><tspan x="5" dy="4">.1 Project management plan</tspan><tspan x="5" dy="4">.2 Schedule forecasts</tspan><tspan x="5" dy="4">.3 Cost forecasts</tspan><tspan x="5" dy="4">.4 Validated changes</tspan><tspan x="5" dy="4">.5 Work performance information</tspan><tspan x="5" dy="4">.6 Enterprise environmental factors</tspan><tspan x="5" dy="4">.7 Organizational process assets</tspan><tspan class="h" x="2" dy="4">2 Tools &amp; Techniques</tspan><tspan x="5" dy="4">.1 Expert judgment</tspan><tspan x="5" dy="4">.2 Analytical techniques</tspan><tspan x="5" dy="4">.3 Project management information system</tspan><tspan x="5" dy="4">.4 Meetings</tspan><tspan class="h" x="2" dy="4">3 Outputs</tspan><tspan x="5" dy="4">.1 Change requests</tspan><tspan x="5" dy="4">.2 Work performance reports</tspan><tspan x="5" dy="4">.3 Project management plan (updates)</tspan><tspan x="5" dy="4">.4 Project documents (updates)</tspan></text></g>

<g id="p4-5" transform="translate(543,801)"><rect class="s" x="2" y="2" width="87" height="83"/><rect class="bx gi" width="87" height="83"/><rect width="87" height="19.5"/><text class="ht"><tspan x="43.5" y="6">INTEGRATION</tspan><tspan x="43.5" y="11.8">4.5 – Perform Integrated Change</tspan><tspan x="43.5" y="17.6">Control</tspan></text><text class="b" y="19.5"><tspan class="h" x="2" dy="4">1 Inputs</tspan><tspan x="5" dy="4">.1 Project management plan</tspan><tspan x="5" dy="4">.2 Work performance reports</tspan><tspan x="5" dy="4">.3 Change requests</tspan><tspan x="5" dy="4">.4 Enterprise environmental factors</tspan><tspan x="5" dy="4">.5 Organizational process assets</tspan><tspan class="h" x="2" dy="4">2 Tools &amp; Techniques</tspan><tspan x="5" dy="4">.1 Expert judgment</tspan><tspan x="5" dy="4">.2 Meetings</tspan><tspan x="5" dy="4">.3 Change control tools</tspan><tspan class="h" x="2" dy="4">3 Outputs</tspan><tspan x="5" dy="4">.1 Approved change requests</tspan><tspan x="5" dy="4">.2 Change log</tspan><tspan x="5" dy="4">.3 Project management plan (updates)</tspan><tspan x="5" dy="4">.4 Project documents (updates)</tspan></text></g>

<g id="p4-6" transform="translate(543,939)"><rect class="s" x="2" y="2" width="87" height="66"/><rect class="bx gi" width="87" height="66"/><rect width="87" height="15"/><text class="ht"><tspan x="43.5" y="6.2">INTEGRATION</tspan><tspan x="43.5" y="12">4.6 – Close Project or Phase</tspan></text><text class="b" y="15"><tspan class="h" x="2" dy="4">1 Inputs</tspan><tspan x="5" dy="4">.1 Project management plan</tspan><tspan x="5" dy="4">.2 Accepted deliverables</tspan><tspan x="5" dy="4">.3 Organizational process assets</tspan><tspan class="h" x="2" dy="4">2 Tools &amp; Techniques</tspan><tspan x="5" dy="4">.1 Expert judgment</tspan><tspan x="5" dy="4">.2 Analytical techniques</tspan><tspan x="5" dy="4">.3 Meetings</tspan><tspan class="h" x="2" dy="4">3 Outputs</tspan><tspan x="5" dy="4">.1 Final product, service, or result transition</tspan><tspan x="5" dy="4">.2 Organizational process assets (updates)</tspan></text></g>

<g id="p12-4" transform="translate(654,939)"><rect class="s" x="2" y="2" width="86" height="60"/><rect class="bx prc" width="86" height="60"/><rect width="86" height="15"/><text class="ht"><tspan x="43" y="6.2">PROCUREMENT</tspan><tspan x="43" y="12">12.4 – Close Procurements</tspan></text><text class="b" y="15"><tspan class="h" x="2" dy="4">1 Inputs</tspan><tspan x="5" dy="4">.1 Project management plan</tspan><tspan x="5" dy="4">.2 Procurement documents</tspan><tspan class="h" x="2" dy="4">2 Tools &amp; Techniques</tspan><tspan x="5" dy="4">.1 Procurement audits</tspan><tspan x="5" dy="4">.2 Procurement negotiations</tspan><tspan x="5" dy="4">.3 Records management system</tspan><tspan class="h" x="2" dy="4">3 Outputs</tspan><tspan x="5" dy="4">.1 Closed procurements</tspan><tspan x="5" dy="4">.2 Organizational process assets (updates)</tspan></text></g>

<g id="p4-3" transform="translate(29,665)"><rect class="s" x="2" y="2" width="87" height="82"/><rect class="bx gi" width="87" height="82"/><rect width="87" height="19.5"/><text class="ht"><tspan x="43.5" y="6">INTEGRATION</tspan><tspan x="43.5" y="11.8">4.3 – Direct and Manage Project</tspan><tspan x="43.5" y="17.6">Work</tspan></text><text class="b" y="19.5"><tspan class="h" x="2" dy="4">1 Inputs</tspan><tspan x="5" dy="4">.1 Project management plan</tspan><tspan x="5" dy="4">.2 Approved change requests</tspan><tspan x="5" dy="4">.3 Enterprise environmental factors</tspan><tspan x="5" dy="4">.4 Organizational process assets</tspan><tspan class="h" x="2" dy="4">2 Tools &amp; Techniques</tspan><tspan x="5" dy="4">.1 Expert judgment</tspan><tspan x="5" dy="4">.2 Project management information system</tspan><tspan x="5" dy="4">.3 Meetings</tspan><tspan class="h" x="2" dy="4">3 Outputs</tspan><tspan x="5" dy="4">.1 Deliverables</tspan><tspan x="5" dy="4">.2 Work performance data</tspan><tspan x="5" dy="4">.3 Change requests</tspan><tspan x="5" dy="4">.4 Project management plan (updates)</tspan><tspan x="5" dy="4">.5 Project documents (updates)</tspan></text></g>

<g id="p9-2" transform="translate(127,665)"><rect class="s" x="2" y="2" width="86" height="75"/><rect class="bx hr" width="86" height="75"/><rect width="86" height="15"/><text class="ht"><tspan x="43" y="6.2">HUMAN RESOURCES</tspan><tspan x="43" y="12">9.2 – Acquire Project Team</tspan></text><text class="b" y="15"><tspan class="h" x="2" dy="4">1 Inputs</tspan><tspan x="5" dy="4">.1 Human resource management plan</tspan><tspan x="5" dy="4">.2 Enterprise environmental factors</tspan><tspan x="5" dy="4">.3 Organizational process assets</tspan><tspan class="h" x="2" dy="4">2 Tools &amp; Techniques</tspan><tspan x="5" dy="4">.1 Pre-assignment</tspan><tspan x="5" dy="4">.2 Negotiation</tspan><tspan x="5" dy="4">.3 Acquisition</tspan><tspan x="5" dy="4">.4 Virtual teams</tspan><tspan x="5" dy="4">.5 Multi-criteria decision analysis</tspan><tspan class="h" x="2" dy="4">3 Outputs</tspan><tspan x="5" dy="4">.1 Project staff assignments</tspan><tspan x="5" dy="4">.2 Resource calendars</tspan><tspan x="5" dy="4">.3 Project management plan (updates)</tspan></text></g>

<g id="p9-3" transform="translate(225,665)"><rect class="s" x="2" y="2" width="87" height="81"/><rect class="bx hr" width="87" height="81"/><rect width="87" height="15"/><text class="ht"><tspan x="43.5" y="6.2">HUMAN RESOURCES</tspan><tspan x="43.5" y="12">9.3 – Develop Project Team</tspan></text><text class="b" y="15"><tspan class="h" x="2" dy="4">1 Inputs</tspan><tspan x="5" dy="4">.1 Human resource management plan</tspan><tspan x="5" dy="4">.2 Project staff assignments</tspan><tspan x="5" dy="4">.3 Resource calendars</tspan><tspan class="h" x="2" dy="4">2 Tools &amp; Techniques</tspan><tspan x="5" dy="4">.1 Interpersonal skills</tspan><tspan x="5" dy="4">.2 Training</tspan><tspan x="5" dy="4">.3 Team-building activities</tspan><tspan x="5" dy="4">.4 Ground rules</tspan><tspan x="5" dy="4">.5 Colocation</tspan><tspan x="5" dy="4">.6 Recognition and rewards</tspan><tspan x="5" dy="4">.7 Personnel assessment tools</tspan><tspan class="h" x="2" dy="4">3 Outputs</tspan><tspan x="5" dy="4">.1 Team performance assessments</tspan><tspan x="5" dy="4">.2 Enterprise environmental factors (updates)</tspan></text></g>

<g id="p9-4" transform="translate(323,665)"><rect class="s" x="2" y="2" width="86" height="95"/><rect class="bx hr" width="86" height="95"/><rect width="86" height="15"/><text class="ht"><tspan x="43" y="6.2">HUMAN RESOURCES</tspan><tspan x="43" y="12">9.4 – Manage Project Team</tspan></text><text class="b" y="15"><tspan class="h" x="2" dy="4">1 Inputs</tspan><tspan x="5" dy="4">.1 Human resource management plan</tspan><tspan x="5" dy="4">.2 Project staff assignments</tspan><tspan x="5" dy="4">.3 Team performance assessments</tspan><tspan x="5" dy="4">.4 Issue log</tspan><tspan x="5" dy="4">.5 Work performance reports</tspan><tspan x="5" dy="4">.6 Organizational process assets</tspan><tspan class="h" x="2" dy="4">2 Tools &amp; Techniques</tspan><tspan x="5" dy="4">.1 Observation and conversation</tspan><tspan x="5" dy="4">.2 Project performance appraisals</tspan><tspan x="5" dy="4">.3 Conflict management</tspan><tspan x="5" dy="4">.4 Interpersonal skills</tspan><tspan class="h" x="2" dy="4">3 Outputs</tspan><tspan x="5" dy="4">.1 Change requests</tspan><tspan x="5" dy="4">.2 Project management plan (updates)</tspan><tspan x="5" dy="4">.3 Project documents (updates)</tspan><tspan x="5" dy="4">.4 Enterprise environmental factors (updates)</tspan><tspan x="5" dy="4">.5 Organizational process assets (updates)</tspan></text></g>

<g id="p10-2" transform="translate(29,800)"><rect class="s" x="2" y="2" width="87" height="85"/><rect class="bx com" width="87" height="85"/><rect width="87" height="15"/><text class="ht"><tspan x="43.5" y="6.2">COMMUNICATION</tspan><tspan x="43.5" y="12">10.2 – Manage Communications</tspan></text><text class="b" y="15"><tspan class="h" x="2" dy="4">1 Inputs</tspan><tspan x="5" dy="4">.1 Communications management plan</tspan><tspan x="5" dy="4">.2 Work performance reports</tspan><tspan x="5" dy="4">.3 Enterprise environmental factors</tspan><tspan x="5" dy="4">.4 Organizational process assets</tspan><tspan class="h" x="2" dy="4">2 Tools &amp; Techniques</tspan><tspan x="5" dy="4">.1 Communication technology</tspan><tspan x="5" dy="4">.2 Communication models</tspan><tspan x="5" dy="4">.3 Communication methods</tspan><tspan x="5" dy="4">.4 Information management systems</tspan><tspan x="5" dy="4">.5 Performance reporting</tspan><tspan class="h" x="2" dy="4">3 Outputs</tspan><tspan x="5" dy="4">.1 Project communications</tspan><tspan x="5" dy="4">.2 Project management plan (updates)</tspan><tspan x="5" dy="4">.3 Project documents (updates)</tspan><tspan x="5" dy="4">.4 Organizational process assets (updates)</tspan></text></g>

<g id="p13-3" transform="translate(127,800)"><rect class="s" x="2" y="2" width="86" height="85"/><rect class="bx stk" width="86" height="85"/><rect width="86" height="19.5"/><text class="ht"><tspan x="43" y="6">COMMUNICATION</tspan><tspan x="43" y="11.8">13.3 – Manage Stakeholder</tspan><tspan x="43" y="17.6">Engagement</tspan></text><text class="b" y="19.5"><tspan class="h" x="2" dy="4">1 Inputs</tspan><tspan x="5" dy="4">.1 Stakeholder management plan</tspan><tspan x="5" dy="4">.2 Communications management plan</tspan><tspan x="5" dy="4">.3 Change log</tspan><tspan x="5" dy="4">.4 Organizational process assets</tspan><tspan class="h" x="2" dy="4">2 Tools &amp; Techniques</tspan><tspan x="5" dy="4">.1 Communication methods</tspan><tspan x="5" dy="4">.2 Interpersonal skills</tspan><tspan x="5" dy="4">.3 Management skills</tspan><tspan class="h" x="2" dy="4">3 Outputs</tspan><tspan x="5" dy="4">.1 Issue log</tspan><tspan x="5" dy="4">.2 Change requests</tspan><tspan x="5" dy="4">.3 Project management plan (updates)</tspan><tspan x="5" dy="4">.4 Project documents (updates)</tspan><tspan x="5" dy="4">.5 Organizational process assets (updates)</tspan></text></g>

<g id="p8-2" transform="translate(225,805)"><rect class="s" x="2" y="2" width="87" height="80"/><rect class="bx qua" width="87" height="80"/><rect width="87" height="15"/><text class="ht"><tspan x="43.5" y="6.2">QUALITY</tspan><tspan x="43.5" y="12">8.2 – Perform Quality Assurance</tspan></text><text class="b" y="15"><tspan class="h" x="2" dy="4">1 Inputs</tspan><tspan x="5" dy="4">.1 Quality management plan</tspan><tspan x="5" dy="4">.2 Process improvement plan</tspan><tspan x="5" dy="4">.3 Quality metrics</tspan><tspan x="5" dy="4">.4 Quality control measurements</tspan><tspan x="5" dy="4">.5 Project documents</tspan><tspan class="h" x="2" dy="4">2 Tools &amp; Techniques</tspan><tspan x="5" dy="4">.1 Quality management and control tools</tspan><tspan x="5" dy="4">.2 Quality audits</tspan><tspan x="5" dy="4">.3 Process analysis</tspan><tspan class="h" x="2" dy="4">3 Outputs</tspan><tspan x="5" dy="4">.1 Change requests</tspan><tspan x="5" dy="4">.2 Project management plan (updates)</tspan><tspan x="5" dy="4">.3 Project documents (updates)</tspan><tspan x="5" dy="4">.4 Organizational process assets (updates)</tspan></text></g>

<g id="p12-2" transform="translate(323,772)"><rect class="s" x="2" y="2" width="86" height="113"/><rect class="bx prc" width="86" height="113"/><rect width="86" height="15"/><text class="ht"><tspan x="43" y="6.2">PROCUREMENT</tspan><tspan x="43" y="12">12.2 – Conduct Procurements</tspan></text><text class="b" y="15"><tspan class="h" x="2" dy="4">1 Inputs</tspan><tspan x="5" dy="4">.1 Procurement management plan</tspan><tspan x="5" dy="4">.2 Procurement documents</tspan><tspan x="5" dy="4">.3 Source selection criteria</tspan><tspan x="5" dy="4">.4 Seller proposals</tspan><tspan x="5" dy="4">.5 Project documents</tspan><tspan x="5" dy="4">.6 Make-or-buy decisions</tspan><tspan x="5" dy="4">.7 Procurement statement of work</tspan><tspan x="5" dy="4">.8 Organizational process assets</tspan><tspan class="h" x="2" dy="4">2 Tools &amp; Techniques</tspan><tspan x="5" dy="4">.1 Bidder conference</tspan><tspan x="5" dy="4">.2 Proposal evaluation techniques</tspan><tspan x="5" dy="4">.3 Independent estimates</tspan><tspan x="5" dy="4">.4 Expert judgment</tspan><tspan x="5" dy="4">.5 Advertising</tspan><tspan x="5" dy="4">.6 Analytical techniques</tspan><tspan x="5" dy="4">.7 Procurement negotiations</tspan><tspan class="h" x="2" dy="4">3 Outputs</tspan><tspan x="5" dy="4">.1 Selected sellers</tspan><tspan x="5" dy="4">.2 Agreements</tspan><tspan x="5" dy="4">.3 Resource calendars</tspan><tspan x="5" dy="4">.4 Change requests</tspan><tspan x="5" dy="4">.5 Project management plan (updates)</tspan><tspan x="5" dy="4">.6 Project documents (updates)</tspan></text></g>

<g id="title">
<text class="tt" x="231" y="936" font-size="27" font-weight="bold">Project Management Processes</text>
<text class="tt" x="231" y="955" font-size="12" font-weight="bold">Flowchart based on PMI PMBOK® Guide – Fifth Edition – English</text>
<text class="tt" x="231" y="965.5" font-size="7.6">(last updated on 22-Mar-2013)</text>
<text class="tt" x="231" y="991" font-size="7.6">Realization: © 2013 Konstantin Trunin, PMP. konstantin@trunin.com - http://trunin.com</text>
<text class="tt" x="231" y="1000" font-size="7.6">Processes: © 2013 Project Management Institute, Inc. - http://www.pmi.org</text>
<text class="tt" x="231" y="1009" font-size="7.6">All rights reserved</text>
</g>
</svg>
